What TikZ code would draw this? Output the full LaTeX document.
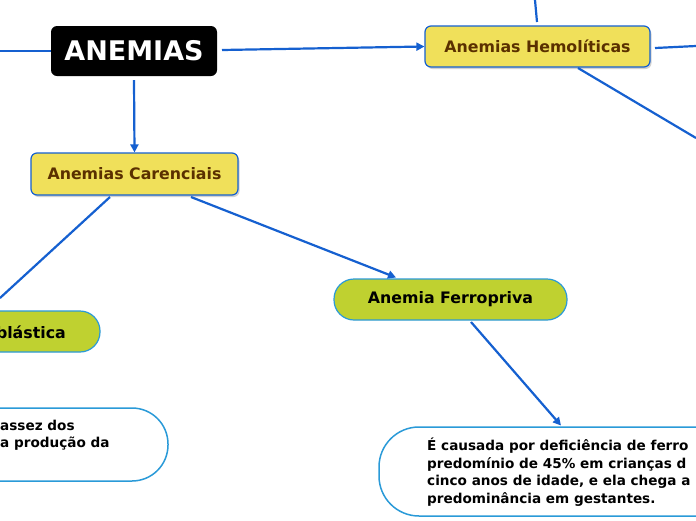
\documentclass[tikz,border=0pt]{standalone}
\usepackage{fontspec}
\setmainfont{DejaVu Sans}
\usetikzlibrary{arrows.meta,shadows}
\definecolor{lb}{HTML}{1560D0}
\definecolor{yel}{HTML}{F0E05A}
\definecolor{grn}{HTML}{BFD130}
\definecolor{brd}{HTML}{2A9AD8}
\definecolor{brn}{HTML}{5A3000}
\begin{document}
\begin{tikzpicture}[x=1pt,y=-1pt,
  conn/.style={draw=lb,line width=2.2pt},
  arr/.style={conn,-{Triangle[length=8pt,width=8pt]}},
  yelbox/.style={draw=lb,line width=1.2pt,fill=yel,rounded corners=6pt,drop shadow={shadow xshift=1.5pt,shadow yshift=-2pt,opacity=0.35},text=brn,font=\bfseries\fontsize{15.8}{18}\selectfont},
  grnbox/.style={draw=brd,line width=1.2pt,fill=grn,rounded corners=20pt,font=\bfseries\fontsize{15.8}{18}\selectfont},
  txt/.style={font=\bfseries\fontsize{13.6}{17.4}\selectfont,align=left,anchor=north west,inner sep=0pt}]
\useasboundingbox (0,0) rectangle (696,520);
\clip (0,0) rectangle (696,520);
\fill[white] (0,0) rectangle (696,520);
% nodes
\node[fill=black,rounded corners=6pt,minimum width=166pt,minimum height=50pt,text=white,font=\bfseries\fontsize{27}{30}\selectfont] (an) at (134,51) {ANEMIAS};
\node[yelbox,minimum width=225pt,minimum height=41pt] (he) at (537.5,46.5) {Anemias Hemolíticas};
\node[yelbox,minimum width=207pt,minimum height=42pt] (ca) at (134.5,174) {Anemias Carenciais};
\node[grnbox,minimum width=233pt,minimum height=41pt] (fe) at (450.5,299.5) {Anemia Ferropriva};
\node[grnbox,minimum width=200pt,minimum height=41pt] (me) at (0,331.5) {};
\node[font=\bfseries\fontsize{15.8}{18}\selectfont,anchor=east,inner sep=0pt] (met) at (66,332) {blástica};
\draw[draw=brd,line width=1.5pt,fill=white,rounded corners=36pt] (-150,408) rectangle (168,481);
\node[txt] (lt) at (0,420) {assez dos\\a produção da};
\draw[draw=brd,line width=1.5pt,fill=white,rounded corners=40pt] (379,427) rectangle (780,516);
\node[txt] (rt) at (427,438) {É causada por deficiência de ferro\\predomínio de 45\% em crianças d\\cinco anos de idade, e ela chega a\\predominância em gestantes.};
% coordinates
\coordinate (l0) at (0,51);
\coordinate (t0) at (535,0);
\coordinate (r0) at (696,46);
\coordinate (r1) at (696,138);
\coordinate (b0) at (0,298);
% connectors
\draw[conn] (l0) -- (an.west);
\draw[arr] (222,50) -- (he.west);
\draw[arr] (an.south)+(0,4) -- (ca.north);
\draw[conn] (t0) -- (537,22);
\draw[conn] (655,48) -- (r0);
\draw[conn] (578,68) -- (r1);
\draw[conn] (110,197) -- (b0);
\draw[arr] (191,197) -- (396,277.5);
\draw[arr] (471,322) -- (561,425.5);
\end{tikzpicture}
\end{document}
